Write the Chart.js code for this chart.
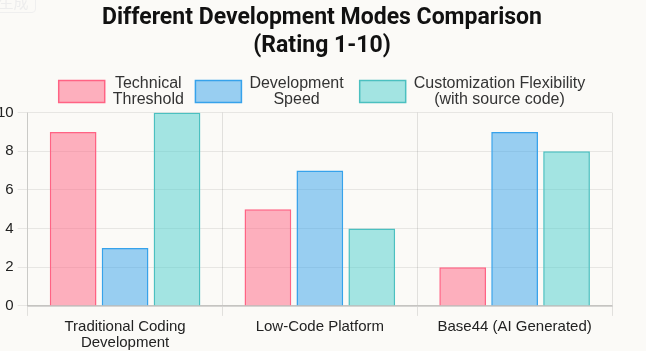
<!DOCTYPE html>
<html>
<head>
<meta charset="utf-8">
<script src="https://cdn.jsdelivr.net/npm/chart.js@4.4.1/dist/chart.umd.min.js"></script>
<style>
  html, body { margin: 0; padding: 0; background: #fbfaf7; overflow: hidden; }
  .chartContainer { position: absolute; left: -7px; top: 0; width: 658px; height: 354px; }
  .badge {
    position: absolute; left: -22px; top: -10px; padding: 0 6px;
    border: 1px solid #efefef; border-radius: 4px;
    font-family: "Noto Sans CJK SC", sans-serif; font-size: 15px; color: #ededed;
  }
</style>
</head>
<body>
<div class="chartContainer">
  <canvas id="myChart"></canvas>
</div>
<div class="badge">AI生成</div>
<script>
  const categories = [
    ["Traditional Coding", "Development"],
    "Low-Code Platform",
    "Base44 (AI Generated)"
  ];
  const seriesNames = [
    ["Technical", "Threshold"],
    ["Development", "Speed"],
    ["Customization Flexibility", "(with source code)"]
  ];
  const technicalThreshold = [9, 5, 2];
  const developmentSpeed = [3, 7, 9];
  const customizationFlexibility = [10, 4, 8];
  const yTicks = [0, 2, 4, 6, 8, 10];

  Chart.defaults.font.family = "'Liberation Sans', Arial, sans-serif";

  const legendFontSize = 16;
  const legendBoxWidth = 46;

  // the built-in legend can't lay out two-line labels side by side,
  // so it measures the longest line (invisible) and we draw the lines here
  const twoLineLegend = {
    id: "twoLineLegend",
    afterDraw(chart) {
      const legend = chart.legend;
      if (!legend || !legend.legendHitBoxes) return;
      const c = chart.ctx;
      c.save();
      c.font = legendFontSize + "px 'Liberation Sans', Arial, sans-serif";
      c.fillStyle = "#333";
      c.textAlign = "center";
      c.textBaseline = "middle";
      legend.legendHitBoxes.forEach((box, i) => {
        const lines = chart.data.datasets[i].label;
        const textW = Math.max(...lines.map((l) => c.measureText(l).width));
        const cx = box.left + legendBoxWidth + legendFontSize / 2 + textW / 2;
        const cy = box.top + box.height / 2;
        const lh = 16;
        lines.forEach((l, j) => {
          c.fillText(l, cx, cy + (j - (lines.length - 1) / 2) * lh);
        });
      });
      c.restore();
    },
  };

  const ctx = document.getElementById("myChart").getContext("2d");

  var data = {
    labels: categories,
    datasets: [
      {
        label: seriesNames[0],
        data: technicalThreshold,
        backgroundColor: "rgba(255,99,132,0.5)",
        borderColor: "rgb(255,99,132)",
        borderWidth: 1.5,
      },
      {
        label: seriesNames[1],
        data: developmentSpeed,
        backgroundColor: "rgba(54,162,235,0.5)",
        borderColor: "rgb(54,162,235)",
        borderWidth: 1.5,
      },
      {
        label: seriesNames[2],
        data: customizationFlexibility,
        backgroundColor: "rgba(75,205,205,0.5)",
        borderColor: "rgb(75,192,192)",
        borderWidth: 1.5,
      },
    ],
  };

  new Chart(ctx, {
    type: "bar",
    data: data,
    plugins: [twoLineLegend],
    options: {
      responsive: true,
      maintainAspectRatio: false,
      animation: false,
      layout: { padding: 0 },
      plugins: {
        title: {
          display: true,
          text: ["Different Development Modes Comparison", "(Rating 1-10)"],
          color: "#111",
          font: { family: "Roboto, 'Liberation Sans', sans-serif", size: 23, weight: "bold", lineHeight: 1.23 },
          padding: { top: 4, bottom: 4 },
        },
        legend: {
          display: true,
          position: "top",
          labels: {
            color: "rgba(0,0,0,0)",
            font: { size: legendFontSize },
            boxWidth: legendBoxWidth,
            boxHeight: 22,
            padding: 16,
            generateLabels: (chart) => {
              const items = Chart.defaults.plugins.legend.labels.generateLabels(chart);
              items.forEach((item) => {
                const lines = chart.data.datasets[item.datasetIndex].label;
                item.text = lines.reduce((a, b) => (a.length >= b.length ? a : b));
              });
              return items;
            },
          },
        },
        tooltip: { enabled: false },
      },
      scales: {
        x: {
          grid: { color: "rgba(0,0,0,0.1)", tickLength: 10 },
          border: { color: "rgba(0,0,0,0.15)", width: 2 },
          ticks: { color: "#222", font: { size: 15, lineHeight: 1.07 }, padding: 3, maxRotation: 0, autoSkip: false },
        },
        y: {
          min: yTicks[0],
          max: yTicks[yTicks.length - 1],
          afterBuildTicks: (axis) => {
            axis.ticks = yTicks.map((v) => ({ value: v }));
          },
          grid: { color: "rgba(0,0,0,0.08)", tickLength: 10 },
          border: { color: "rgba(0,0,0,0.1)" },
          ticks: { color: "#222", font: { size: 15 }, padding: 4 },
        },
        // empty right-hand axis: keeps the plot off the right edge
        // without pulling the title and legend off centre
        spacer: {
          position: "right",
          grid: { display: false },
          border: { display: false },
          ticks: { display: false },
          afterFit: (axis) => {
            axis.width = 39;
          },
        },
      },
    },
  });
</script>
</body>
</html>
